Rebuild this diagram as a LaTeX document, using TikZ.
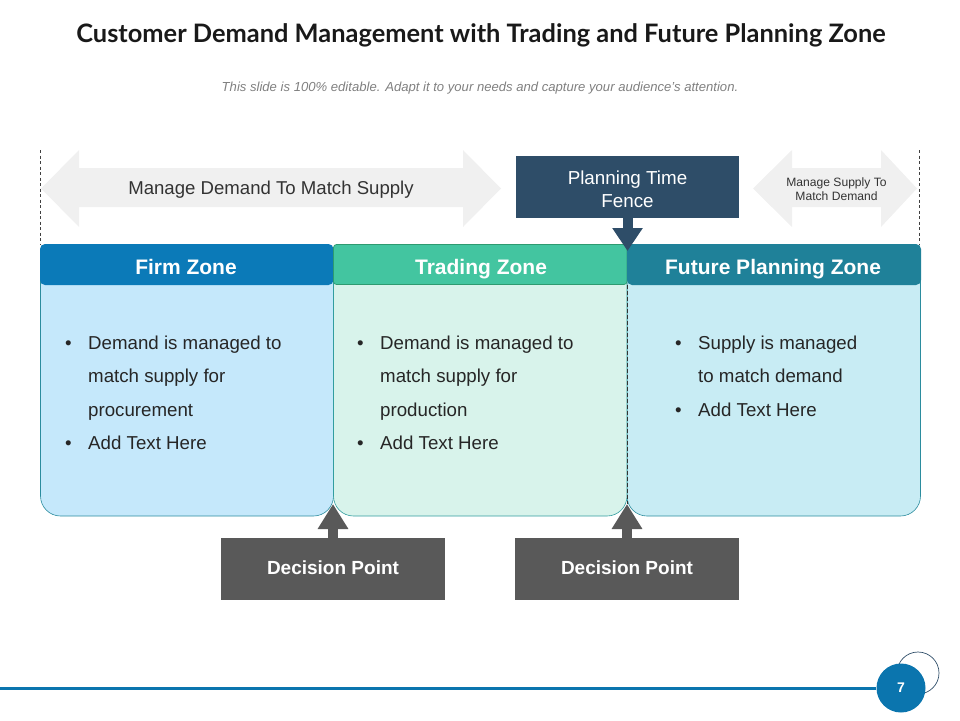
\documentclass[tikz,border=0pt]{standalone}
\usepackage{fontspec}
\setmainfont{Liberation Sans}
\newfontfamily\titlefont{Lato}
\usetikzlibrary{arrows.meta}
\definecolor{firmhead}{HTML}{0B7AB8}
\definecolor{tradehead}{HTML}{43C5A0}
\definecolor{tradeedge}{HTML}{2E9A70}
\definecolor{futurehead}{HTML}{1F8199}
\definecolor{firmbody}{HTML}{C5E8FB}
\definecolor{tradebody}{HTML}{D8F3EB}
\definecolor{futurebody}{HTML}{C8ECF4}
\definecolor{fencecol}{HTML}{2E4D68}
\definecolor{deccol}{HTML}{595959}
\definecolor{bandcol}{HTML}{F0F0F0}
\definecolor{barcol}{HTML}{0B75AE}
\definecolor{bodyedge}{HTML}{2B8C9E}
\newcommand{\fs}[2]{\fontsize{#1}{#2}\selectfont}
\newcommand{\bulletlist}[1]{\renewcommand{\arraystretch}{1}\fs{18.7}{33.5}\begin{tabular}{@{}p{23pt}@{}l@{}}#1\end{tabular}}
\tikzset{
  x=1pt,y=-1pt,
  headtext/.style={text=white,font=\bfseries\fs{21}{25},inner sep=0pt,anchor=base},
  bandshape/.style={fill=bandcol,draw=none},
  bandtext/.style={text=black!80,inner sep=0pt,align=center},
  decbox/.style={fill=deccol,minimum width=224pt,minimum height=62pt,inner sep=0pt},
  dectext/.style={text=white,font=\bfseries\fs{19}{23},inner sep=0pt,anchor=base},
  fencebox/.style={fill=fencecol,text=white,font=\fs{18.8}{23},align=center,minimum width=223pt,minimum height=62pt,inner sep=0pt},
  blockfence/.style={draw=fencecol,line width=10pt,-{Triangle[length=23pt,width=29pt]}},
  blockdec/.style={draw=deccol,line width=10pt,-{Triangle[length=25pt,width=29pt]}},
  fencedash/.style={draw=black!75,line width=0.7pt,dash pattern=on 3pt off 2.5pt},
  listnode/.style={anchor=north west,inner sep=0pt,text=black!85},
}
\begin{document}
\begin{tikzpicture}
\useasboundingbox (0,0) rectangle (960,720);
% title
\node[font=\titlefont\bfseries\fs{25.4}{30},text=black!90,inner sep=0pt] (title) at (481,35.5) {Customer Demand Management with Trading and Future Planning Zone};
\node[font=\itshape\fs{13.1}{15},text=black!50,inner sep=0pt] (sub) at (480,88.5) {This slide is 100\% editable. Adapt it to your needs and capture your audience's attention.};
% dashed guide ends
\coordinate (gla) at (40.5,150); \coordinate (glb) at (40.5,244);
\coordinate (gra) at (919.5,150); \coordinate (grb) at (919.5,244);
\draw[fencedash] (gla) -- (glb);
\draw[fencedash] (gra) -- (grb);
% band arrows
\fill[bandshape] (41,188.5) -- (79,150) -- (79,168) -- (463,168) -- (463,150) -- (501,188.5) -- (463,227) -- (463,207) -- (79,207) -- (79,227) -- cycle;
\node[bandtext,font=\fs{18.6}{22}] (demand) at (271,189.5) {Manage Demand To Match Supply};
\fill[bandshape] (753,188.5) -- (792,150) -- (792,168) -- (881,168) -- (881,150) -- (917,188.5) -- (881,227) -- (881,207) -- (792,207) -- (792,227) -- cycle;
\node[bandtext,font=\fs{12.1}{14}] (supply) at (836.5,189.5) {Manage Supply To\\Match Demand};
% zone bodies
\filldraw[fill=firmbody,draw=bodyedge,line width=0.6pt,rounded corners=20pt] (40.5,280) -- (40.5,516) -- (333.5,516) -- (333.5,280);
\filldraw[fill=futurebody,draw=bodyedge,line width=0.6pt,rounded corners=20pt] (627,280) -- (627,516) -- (920.5,516) -- (920.5,280);
\filldraw[fill=tradebody,draw=bodyedge!70!tradehead,line width=0.6pt,rounded corners=20pt] (333.5,280) -- (333.5,516) -- (627,516) -- (627,280);
% headers
\fill[firmhead,rounded corners=5pt] (40,285) -- (40,244) -- (333.5,244) -- (333.5,285) -- cycle;
\filldraw[fill=tradehead,draw=tradeedge,line width=0.7pt,rounded corners=3pt] (333.5,284.5) -- (333.5,244.5) -- (627,244.5) -- (627,284.5) -- cycle;
\fill[futurehead,rounded corners=5pt] (627,285) -- (627,244) -- (921,244) -- (921,285) -- cycle;
\node[headtext] (firm) at (186,274) {Firm Zone};
\node[headtext] (trade) at (481,274) {Trading Zone};
\node[headtext] (future) at (773,274) {Future Planning Zone};
% centre dashed line
\coordinate (cdtop) at (627,285); \coordinate (tipb) at (627,504);
\draw[draw=black!80,line width=0.9pt,dash pattern=on 4pt off 2pt] (cdtop) -- (tipb);
% lists
\node[listnode] (l1) at (65,325.5) {\bulletlist{•&Demand is managed to\\&match supply for\\&procurement\\•&Add Text Here}};
\node[listnode] (l2) at (357,325.5) {\bulletlist{•&Demand is managed to\\&match supply for\\&production\\•&Add Text Here}};
\node[listnode] (l3) at (675,325.5) {\bulletlist{•&Supply is managed\\&to match demand\\•&Add Text Here}};
% planning fence
\node[fencebox] (fence) at (627.5,187) {};
\node[text=white,font=\fs{18.8}{23},align=center,inner sep=0pt] (fencetext) at (627.5,189) {Planning Time\\Fence};
\coordinate (fencetip) at (627.5,251);
\draw[blockfence] (fence.south) -- (fencetip);
% decision points
\node[decbox] (d1) at (333,569) {};
\node[decbox] (d2) at (627,569) {};
\node[dectext] (d1t) at (333,574) {Decision Point};
\node[dectext] (d2t) at (627,574) {Decision Point};
\coordinate (tipa) at (333,504);
\draw[blockdec] (d1.north) -- (tipa);
\draw[blockdec] (d2.north) -- (tipb);
% footer
\coordinate (barstart) at (0,688);
\node[circle,draw=fencecol,line width=0.7pt,minimum size=42pt,inner sep=0pt] (ring) at (918,673) {};
\node[circle,fill=barcol,text=white,font=\bfseries\fs{14}{16},minimum size=49pt,inner sep=0pt] (page) at (901,688) {7};
\draw[barcol,line width=3pt] (barstart) -- (page.west);
\end{tikzpicture}
\end{document}
